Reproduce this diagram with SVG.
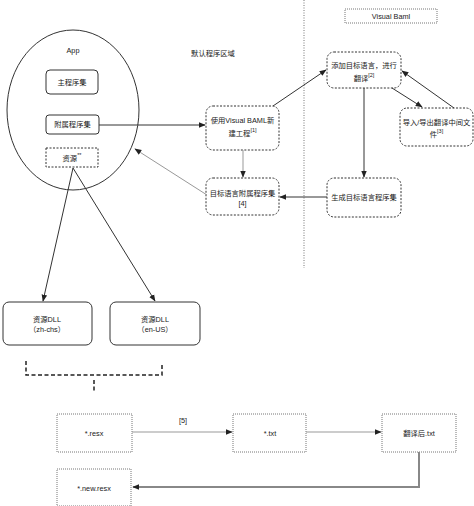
<svg xmlns="http://www.w3.org/2000/svg" width="474" height="506" viewBox="0 0 474 506">
<style>
text{font-family:"Liberation Sans","Noto Sans CJK SC",sans-serif;font-size:7.3px;fill:#222;text-anchor:middle;dominant-baseline:central}
.sup{font-size:5.5px}
.solid{fill:#fff;stroke:#333;stroke-width:1}
.dash{fill:#fff;stroke:#333;stroke-width:1;stroke-dasharray:2,1.5}
.dot{fill:#fff;stroke:#777;stroke-width:1;stroke-dasharray:1,1}
.dk{fill:none;stroke:#333;stroke-width:1}
.gy{fill:none;stroke:#999;stroke-width:1}
.gy2{fill:none;stroke:#888;stroke-width:2}
</style>
<defs>
<marker id="ah" viewBox="0 0 10 10" refX="9" refY="5" markerWidth="7" markerHeight="7" orient="auto" markerUnits="userSpaceOnUse"><path d="M0,1L10,5L0,9z" fill="#222"/></marker>
</defs>
<rect width="474" height="506" fill="#fff"/>
<g id="zones">
<line x1="304" y1="0" x2="304" y2="268" stroke="#777" stroke-dasharray="1,1.5"/>
<text x="213" y="53">默认程序区域</text>
</g>
<g id="app">
<ellipse cx="73" cy="110" rx="66" ry="80" class="solid"/>
<text x="73" y="50">App</text>
</g>
<g id="main-asm"><rect x="46" y="70" width="52" height="24" rx="4" class="solid"/><text x="72" y="82">主程序集</text></g>
<g id="sat-asm"><rect x="46" y="115" width="53" height="19" rx="3" class="solid"/><text x="72.5" y="124.5">附属程序集</text></g>
<g id="res"><rect x="46" y="148" width="52" height="19" class="dash"/><text x="72" y="158">资源<tspan class="sup" dy="-3">**</tspan></text></g>
<g id="dll-zh"><rect x="3" y="302" width="89" height="43" rx="6" class="solid"/><text x="47" y="319">资源DLL</text><text x="47" y="329">（zh-chs）</text></g>
<g id="dll-en"><rect x="110" y="302" width="90" height="43" rx="6" class="solid"/><text x="155" y="319">资源DLL</text><text x="155" y="329">（en-US）</text></g>
<g id="bracket">
<path d="M26,361V375H162V363" fill="none" stroke="#222" stroke-width="1.5" stroke-dasharray="4,2.5"/>
<line x1="94" y1="380" x2="94" y2="391" stroke="#222" stroke-width="1.5" stroke-dasharray="4,2.5"/>
</g>
<g id="new-proj"><rect x="206" y="106" width="73" height="44" rx="7" class="dash"/><text x="242.5" y="120">使用Visual BAML新</text><text x="242.5" y="133">建工程<tspan class="sup" dy="-3">[1]</tspan></text></g>
<g id="target-sat"><rect x="206" y="178" width="73" height="37" rx="7" class="dash"/><text x="242.5" y="193">目标语言附属程序集</text><text x="242.5" y="203">[4]</text></g>
<g id="vb-label"><rect x="345" y="9" width="92" height="14" class="dot"/><text x="391" y="16">Visual Baml</text></g>
<g id="add-lang"><rect x="327" y="52" width="74" height="36" rx="7" class="dash"/><text x="364" y="65">添加目标语言，进行</text><text x="364" y="78">翻译<tspan class="sup" dy="-3">[2]</tspan></text></g>
<g id="import-export"><rect x="400" y="108" width="73" height="38" rx="7" class="dash"/><text x="436.5" y="122">导入/导出翻译中间文</text><text x="436.5" y="134">件<tspan class="sup" dy="-3">[3]</tspan></text></g>
<g id="gen-asm"><rect x="327" y="178" width="74" height="39" rx="7" class="dash"/><text x="364" y="197">生成目标语言程序集</text></g>
<g id="resx"><rect x="57" y="414" width="75" height="38" class="dot"/><text x="94" y="433">*.resx</text></g>
<g id="txt"><rect x="233" y="414" width="73" height="38" class="dot"/><text x="270" y="433">*.txt</text></g>
<g id="trans-txt"><rect x="382" y="414" width="74" height="38" class="dot"/><text x="419" y="433">翻译后.txt</text></g>
<g id="new-resx"><rect x="57" y="469" width="74" height="37" class="dot"/><text x="94" y="488">*.new.resx</text></g>
<g id="connectors">
<line x1="73" y1="168" x2="43" y2="301" class="dk" marker-end="url(#ah)"/>
<line x1="73" y1="168" x2="155" y2="301" class="dk" marker-end="url(#ah)"/>
<line x1="99" y1="125" x2="205" y2="125" class="dk" marker-end="url(#ah)"/>
<line x1="243" y1="150" x2="243" y2="177" class="gy" marker-end="url(#ah)"/>
<line x1="207" y1="195" x2="135" y2="149" class="gy" marker-end="url(#ah)"/>
<line x1="327" y1="197" x2="280" y2="197" class="dk" marker-end="url(#ah)"/>
<line x1="273" y1="106" x2="326" y2="70" class="dk" marker-end="url(#ah)"/>
<line x1="392" y1="88" x2="422" y2="107" class="dk" marker-end="url(#ah)"/>
<line x1="454" y1="108" x2="402" y2="71" class="dk" marker-end="url(#ah)"/>
<line x1="364" y1="88" x2="364" y2="177" class="dk" marker-end="url(#ah)"/>
<line x1="132" y1="432" x2="232" y2="432" class="gy" marker-end="url(#ah)"/>
<text x="183" y="420">[5]</text>
<line x1="306" y1="432" x2="381" y2="432" class="gy" marker-end="url(#ah)"/>
<path d="M419,452V487H133" class="gy2" marker-end="url(#ah)"/>
</g>
</svg>
